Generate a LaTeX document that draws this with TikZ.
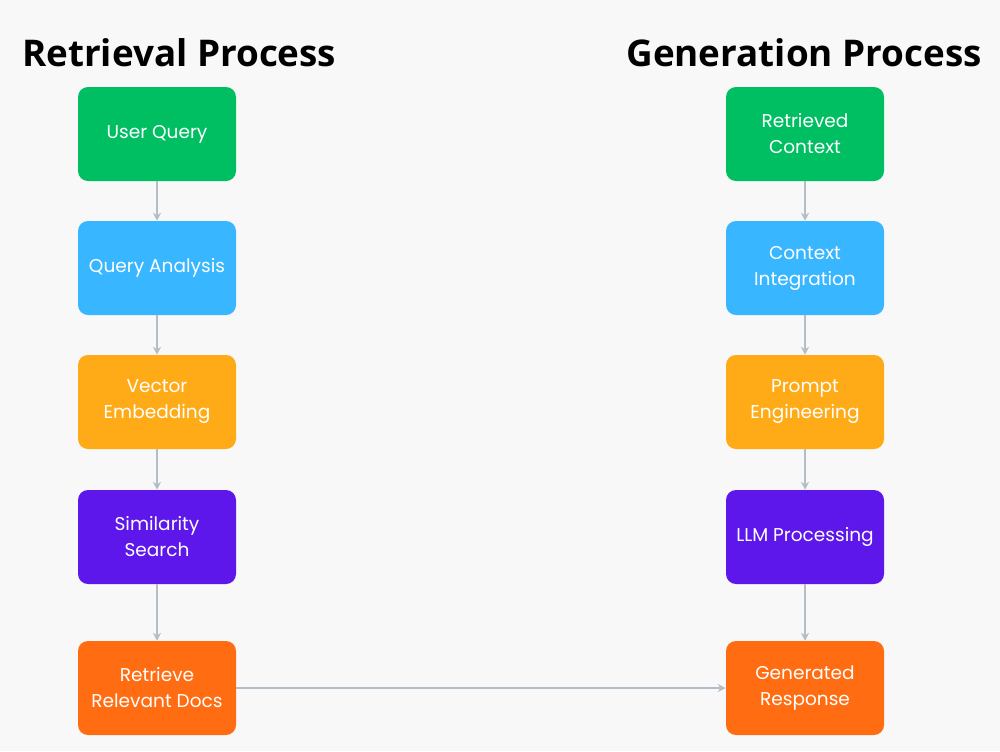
\documentclass[tikz,border=0pt]{standalone}
\usepackage{fontspec}
\setmainfont{Poppins}
\newfontfamily\titlefont{Open Sans}
\usetikzlibrary{arrows.meta}
\definecolor{bgc}{HTML}{F8F8F8}
\definecolor{cgreen}{HTML}{00BF63}
\definecolor{cblue}{HTML}{38B6FF}
\definecolor{camber}{HTML}{FFAA17}
\definecolor{cpurple}{HTML}{5E17EB}
\definecolor{corange}{HTML}{FF6C11}
\definecolor{cline}{HTML}{B4BEC8}
\tikzset{
  stepbox/.style={rounded corners=7.5pt, minimum width=118.5pt, minimum height=70.5pt,
    inner sep=0pt, align=center, text=white, font=\fontsize{13.9}{19.5}\selectfont},
  conn/.style={draw=cline, line width=1.3pt, -{Stealth[length=6pt,width=6pt]}},
  ttl/.style={font=\titlefont\bfseries\fontsize{27.6}{32}\selectfont, text=black, inner sep=0pt}
}
\begin{document}
\begin{tikzpicture}[x=0.75pt,y=-0.75pt]
\fill[bgc] (0,0) rectangle (1000,751);
\useasboundingbox (0,0) rectangle (1000,751);
\node[ttl, anchor=base west] (t1) at (22,66) {Retrieval Process};
\node[ttl, anchor=base east] (t2) at (982,66) {Generation Process};
% left column
\node[stepbox, fill=cgreen] (l1) at (157,134) {User Query};
\node[stepbox, fill=cblue] (l2) at (157,268) {Query Analysis};
\node[stepbox, fill=camber] (l3) at (157,402) {Vector\\Embedding};
\node[stepbox, fill=cpurple] (l4) at (157,537) {Similarity\\Search};
\node[stepbox, fill=corange] (l5) at (157,688) {Retrieve\\Relevant Docs};
% right column
\node[stepbox, fill=cgreen] (r1) at (805,134) {Retrieved\\Context};
\node[stepbox, fill=cblue] (r2) at (805,268) {Context\\Integration};
\node[stepbox, fill=camber] (r3) at (805,402) {Prompt\\Engineering};
\node[stepbox, fill=cpurple] (r4) at (805,537) {LLM Processing};
\node[stepbox, fill=corange] (r5) at (805,688) {Generated\\Response};
\draw[conn] (l1) -- (l2);
\draw[conn] (l2) -- (l3);
\draw[conn] (l3) -- (l4);
\draw[conn] (l4) -- (l5);
\draw[conn] (r1) -- (r2);
\draw[conn] (r2) -- (r3);
\draw[conn] (r3) -- (r4);
\draw[conn] (r4) -- (r5);
\draw[conn] (l5) -- (r5);
\end{tikzpicture}
\end{document}
